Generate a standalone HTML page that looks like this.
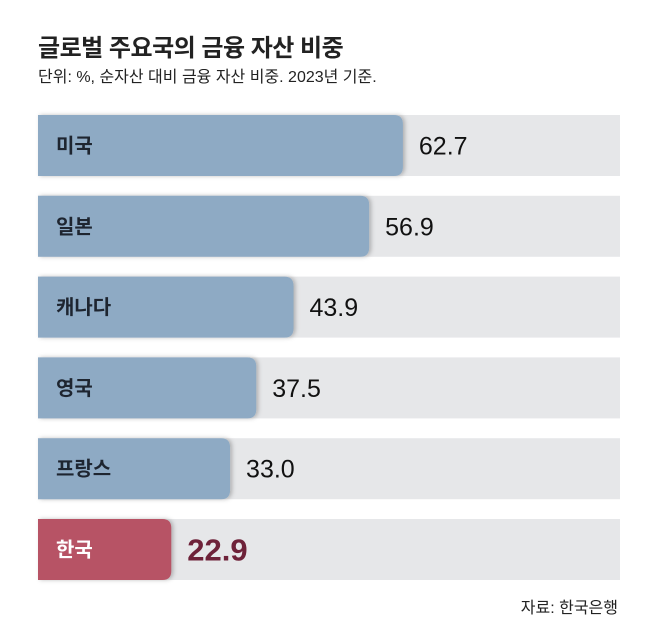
<!DOCTYPE html>
<html><head><meta charset="utf-8">
<style>
body{margin:0;background:#fff;width:658px;height:644px;overflow:hidden;font-family:"Liberation Sans","Noto Sans CJK KR",sans-serif;}
#title{position:absolute;left:38px;top:28px;font-size:24px;font-weight:bold;color:#222;letter-spacing:-0.5px}
#sub{position:absolute;left:38px;top:63px;font-size:16px;color:#222}
#src{position:absolute;right:40px;top:594px;font-size:16px;color:#222}
</style></head><body>
<div id="title">글로벌 주요국의 금융 자산 비중</div>
<div id="sub">단위: %, 순자산 대비 금융 자산 비중. 2023년 기준.</div>
<svg id="chart" width="658" height="644" style="position:absolute;left:0;top:0"></svg>
<div id="src">자료: 한국은행</div>
<script>
const categories=["미국","일본","캐나다","영국","프랑스","한국"];
const values=[62.7,56.9,43.9,37.5,33.0,22.9];
const valueLabels=["62.7","56.9","43.9","37.5","33.0","22.9"];
const maxValue=100;
const NS="http://www.w3.org/2000/svg";
const svg=document.getElementById('chart');
const x0=38,x1=620;
function xScale(v){return x0+(x1-x0)*v/maxValue;}
function yScale(i){return 115+i*80.8;}
const bh=61;
function mk(t,a){const e=document.createElementNS(NS,t);for(const k in a)e.setAttribute(k,a[k]);svg.appendChild(e);return e;}
const defs=mk('defs',{});
defs.innerHTML='<filter id="sh" x="-10%" y="-10%" width="130%" height="130%"><feDropShadow dx="2" dy="0" stdDeviation="2" flood-color="#000" flood-opacity="0.25"/></filter>';
categories.forEach((c,i)=>{
  const y=yScale(i);const hl=i===categories.length-1;
  const bg=mk('rect',{x:x0,y:y,width:x1-x0,height:bh,fill:'#e6e7e9'});
  
  
  const w=xScale(values[i])-x0;
  const b=mk('path',{d:`M${x0},${y}H${x0+w-9}Q${x0+w},${y} ${x0+w},${y+9}V${y+bh-9}Q${x0+w},${y+bh} ${x0+w-9},${y+bh}H${x0}Z`,fill:hl?'#b75365':'#8eaac4',filter:'url(#sh)'});
  
  
  const l=mk('text',{x:x0+18,y:y+bh/2+7,'font-size':20,'font-weight':'bold',fill:hl?'#fff':'#1e2530'});
  l.textContent=c;
  
  
  const v=mk('text',{x:xScale(values[i])+(hl?16:16),y:y+bh/2+(hl?11:9),'font-size':hl?31:25,'font-weight':hl?'bold':'normal',fill:hl?'#6e2239':'#111'});
  v.textContent=valueLabels[i];
  
  
});
</script>
</body></html>
